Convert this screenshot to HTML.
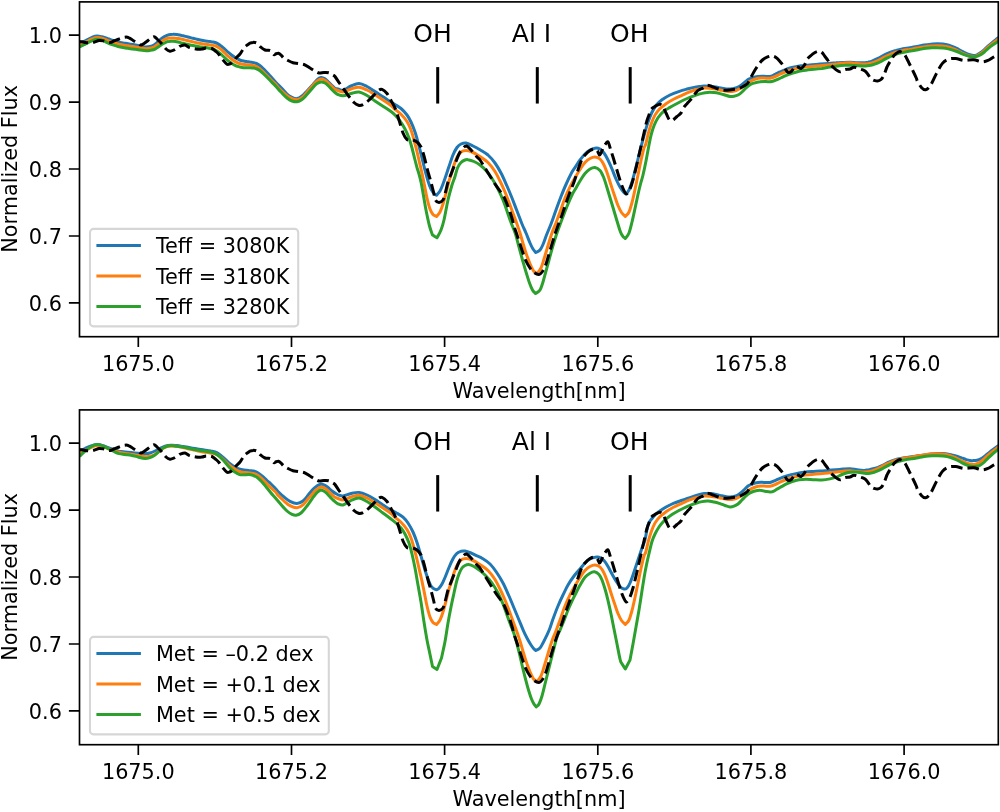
<!DOCTYPE html>
<html lang="en"><head><meta charset="utf-8"><title>Spectra</title>
<style>html,body{margin:0;padding:0;background:#fff}svg{display:block}text{font-family:"DejaVu Sans","Liberation Sans",sans-serif;fill:#000}</style>
</head><body>
<svg width="1000" height="812" viewBox="0 0 1000 812" font-size="20.8px">
<defs><clipPath id="clip"><rect x="79.5" y="1.9" width="918.8" height="334.8"/></clipPath></defs>
<rect width="1000" height="812" fill="#fff"/>
<g transform="translate(0,0)">
<g clip-path="url(#clip)" fill="none" stroke-width="3.0" stroke-linejoin="round">
<path stroke="#1f77b4" d="M79.5 43.2C81 42.6 82.5 42.1 84 41.4C85.3 40.8 86.7 40 88 39.3C89.3 38.6 90.7 37.8 92 37.3C93.7 36.7 95.3 36.1 97 36C98.7 35.9 100.3 36.4 102 36.8C104 37.3 106 38 108 38.7C109.7 39.2 111.3 39.9 113 40.4C114.7 40.9 116.3 41.6 118 42C119.7 42.4 121.3 42.7 123 43C124.7 43.3 126.3 43.4 128 43.7C129.7 44 131.3 44.3 133 44.6C134.7 44.9 136.3 45.2 138 45.5C139.3 45.8 140.7 46.1 142 46.4C143.3 46.6 144.7 47 146 47C147.3 47 148.7 46.8 150 46.5C151.3 46.2 152.7 45.8 154 45C155.2 44.3 156.3 43.2 157.5 42.2C158.7 41.2 159.8 39.9 161 39C162.2 38.1 163.3 37.3 164.5 36.6C165.7 35.9 166.8 35.3 168 35C169.7 34.5 171.3 34.3 173 34.3C174.7 34.2 176.3 34.5 178 34.7C179.7 35 181.3 35.4 183 35.8C184.7 36.2 186.3 36.6 188 37C189.7 37.4 191.3 37.9 193 38.3C194.7 38.7 196.3 39.1 198 39.5C199.7 39.9 201.3 40.2 203 40.5C204.7 40.8 206.3 41 208 41.3C209.3 41.5 210.7 41.7 212 41.9C213 42.1 214 42.2 215 42.5C216 42.8 217 43.3 218 43.9C219 44.5 220 45.2 221 46C222.2 46.9 223.3 47.9 224.5 48.9C225.7 49.9 226.8 51.2 228 52.2C229.2 53.2 230.3 54.1 231.5 55C232.7 55.9 233.8 56.7 235 57.5C236 58.1 237 58.7 238 59.2C239 59.7 240 60.2 241 60.5C242.2 60.9 243.3 61 244.5 61.2C245.7 61.4 246.8 61.5 248 61.7C249.2 61.9 250.3 62 251.5 62.2C252.7 62.4 253.8 62.6 255 63C256 63.3 257 63.8 258 64.4C259 65 260 65.7 261 66.5C262.2 67.5 263.3 68.6 264.5 69.8C265.7 71 266.8 72.2 268 73.5C269.3 75 270.7 76.5 272 78C273.3 79.5 274.7 81.1 276 82.5C277.7 84.3 279.3 85.8 281 87.5C283 89.6 285 92.2 287 94C288.7 95.5 290.3 96.5 292 97.3C293.7 98.1 295.3 98.8 297 98.6C298.7 98.4 300.3 97.3 302 96C303.7 94.7 305.3 92.7 307 91C309 88.9 311 86.8 313 84.6C314.3 83.1 315.7 81 317 79.8C318.3 78.6 319.7 77.7 321 77.5C322.3 77.3 323.7 78 325 78.8C326 79.4 327 80.5 328 81.5C329.2 82.6 330.3 83.9 331.5 85C332.7 86.1 333.8 87.5 335 88.2C336 88.8 337 88.7 338 89C339.7 89.5 341.3 90.8 343 90.4C345.7 89.8 348.3 87.1 351 86C353.7 84.9 356.3 83.5 359 83.6C361.7 83.7 364.3 85.2 367 86.5C369.7 87.8 372.3 89.9 375 91.6C377.7 93.3 380.3 95.1 383 96.8C385.7 98.5 388.3 100.3 391 102C392.3 102.9 393.7 103.6 395 104.5C397 105.8 399 106.8 401 108.5C403 110.2 405 112.3 407 115C408.3 116.8 409.7 119.2 411 122C412.3 124.8 413.7 128.1 415 132C416.2 135.4 417.3 139.7 418.5 144C419.5 147.7 420.5 152 421.5 156C422.6 160.3 423.6 164.9 424.7 169C425.8 173.2 426.9 177.5 428 181C429 184.2 430 187 431 189C432.2 191.3 433.3 192.7 434.5 194C435.2 194.8 435.8 194.8 436.5 195.2C437.7 193.8 438.8 193 440 191C441 189.3 442 186.6 443 184C444 181.4 445 178.4 446 175.5C447 172.6 448 169.4 449 166.5C450.3 162.6 451.7 158.2 453 155C454.3 151.8 455.7 149.3 457 147.5C458.3 145.7 459.7 144.7 461 144C462.7 143.2 464.3 142.7 466 143C468.3 143.4 470.7 144.9 473 146C475.3 147.1 477.7 148.4 480 149.8C482.7 151.4 485.3 152.7 488 155C490.3 157.1 492.7 159.8 495 163C497 165.8 499 169.2 501 173C503 176.8 505 181.5 507 186C508.7 189.8 510.3 193.8 512 198C513.7 202.2 515.3 206.7 517 211C518.7 215.3 520.3 219.9 522 224C523.3 227.3 524.7 229.8 526 233C527.3 236.2 528.7 240 530 243C531 245.3 532 247.4 533 249C533.9 250.5 534.9 251.3 535.8 252.5C537.2 251.7 538.6 251.6 540 250C541 248.9 542 246.8 543 244.5C544.2 241.8 545.3 238 546.5 235C548 231.2 549.5 227.9 551 224C552.7 219.6 554.3 214.6 556 210C557.7 205.4 559.3 200.8 561 196.5C562.7 192.2 564.3 188.2 566 184.5C568 180 570 175.7 572 172C573.3 169.5 574.7 168 576 166C577.3 164 578.7 161.8 580 160C581.7 157.8 583.3 155.7 585 154C586.7 152.3 588.3 151 590 150C591.7 149 593.3 148.4 595 148.2C596.7 148 598.3 148.1 600 149C601.3 149.7 602.7 151.2 604 153C605.3 154.8 606.7 157.3 608 160C609.3 162.7 610.7 165.8 612 169C613.3 172.2 614.7 176 616 179C617.3 182 618.7 184.7 620 187C621.2 189 622.3 190.7 623.5 192C624.3 192.9 625.2 194 626 193.7C627 193.3 628 191.9 629 190C630 188.1 631 185.2 632 182C633 178.8 634 174.8 635 171C636 167.2 637 163 638 159C639 155 640 150.9 641 147C642 143.1 643 139.2 644 135.6C645.2 131.3 646.4 127 647.6 123.4C648.9 119.4 650.3 115.8 651.6 113C653.2 109.7 654.8 107 656.4 105C658.3 102.6 660.1 101.2 662 99.8C664.7 97.8 667.3 96.3 670 95C672.7 93.7 675.3 92.7 678 91.8C680.7 90.9 683.3 90.1 686 89.4C688.7 88.7 691.3 87.9 694 87.4C696.7 86.9 699.3 86.6 702 86.2C702.7 86.1 703.3 86 704 86C706 86 708 86.1 710 86.3C712 86.5 714 86.7 716 87C718 87.3 720 87.9 722 88.2C724 88.5 726 88.9 728 89C729.3 89.1 730.7 89 732 88.8C733.3 88.6 734.7 88.5 736 88C737.3 87.5 738.7 86.8 740 86C741.3 85.2 742.7 84.1 744 83C745.3 81.9 746.7 80.4 748 79.5C749.3 78.6 750.7 78.3 752 77.9C754 77.3 756 76.8 758 76.5C760 76.2 762 76.3 764 76.3C766 76.3 768 76.9 770 76.5C771.7 76.3 773.3 75.2 775 74.5C776.7 73.7 778.3 72.7 780 72C781.7 71.2 783.3 70.5 785 69.8C786.7 69.1 788.3 68.5 790 68C792.3 67.4 794.7 67 797 66.5C799.3 66.1 801.7 65.7 804 65.5C806.7 65.1 809.3 64.9 812 64.7C814.7 64.5 817.3 64.3 820 64.1C822.7 63.9 825.3 63.7 828 63.4C830.7 63.2 833.3 62.9 836 62.8C838.3 62.6 840.7 62.5 843 62.4C845.3 62.3 847.7 62.2 850 62.2C852.3 62.2 854.7 62.6 857 62.7C859.3 62.8 861.7 62.9 864 62.8C865.3 62.7 866.7 62.4 868 62.2C869.3 61.9 870.7 61.7 872 61.1C874 60.4 876 59.3 878 58.3C880 57.3 882 56.1 884 55.1C886 54.1 888 53.3 890 52.5C892 51.7 894 50.9 896 50.4C898.3 49.7 900.7 49.3 903 48.8C905.3 48.4 907.7 48.1 910 47.7C912.3 47.3 914.7 46.8 917 46.4C919.3 46 921.7 45.5 924 45.1C926.3 44.7 928.7 44.4 931 44.2C933.2 44 935.4 43.7 937.6 43.7C939.4 43.7 941.2 43.8 943 44C944.4 44.2 945.8 44.4 947.2 44.8C948.8 45.2 950.4 45.7 952 46.3C953.6 46.9 955.2 47.7 956.8 48.4C958.4 49.2 960 50.2 961.6 51C963.2 51.8 964.8 52.7 966.4 53.4C967.6 53.9 968.8 54.5 970 54.8C971.2 55.1 972.4 55.4 973.6 55.4C974.7 55.4 975.9 55.2 977 54.8C978.3 54.3 979.5 53.5 980.8 52.6C982 51.8 983.2 50.7 984.4 49.6C985.6 48.5 986.8 47.1 988 46C989.7 44.5 991.3 43.4 993 42C994.5 40.8 996.1 39.4 997.6 38.2C997.9 38 998.1 37.8 998.4 37.6"/>
<path stroke="#ff7f0e" d="M79.5 44.8C81 44.2 82.5 43.7 84 43C85.3 42.4 86.7 41.7 88 41C89.3 40.3 90.7 39.5 92 39C93.7 38.4 95.3 37.7 97 37.6C98.7 37.5 100.3 37.8 102 38.3C104 38.8 106 39.9 108 40.6C109.7 41.2 111.3 41.8 113 42.4C114.7 43 116.3 43.6 118 44C119.7 44.4 121.3 44.7 123 45C124.7 45.3 126.3 45.5 128 45.8C129.7 46.1 131.3 46.3 133 46.6C134.7 46.9 136.3 47.1 138 47.4C139.3 47.6 140.7 47.9 142 48.1C143.3 48.3 144.7 48.7 146 48.7C147.3 48.7 148.7 48.6 150 48.3C151.3 48 152.7 47.7 154 47C155.2 46.4 156.3 45.5 157.5 44.6C158.7 43.7 159.8 42.6 161 41.8C162.2 41 163.3 40.2 164.5 39.6C165.7 39 166.8 38.4 168 38.2C169.7 37.9 171.3 37.9 173 37.9C174.7 37.9 176.3 38.1 178 38.4C179.7 38.7 181.3 39.1 183 39.5C184.7 39.9 186.3 40.3 188 40.7C189.7 41.1 191.3 41.5 193 41.9C194.7 42.3 196.3 42.7 198 43C199.7 43.3 201.3 43.6 203 43.9C204.7 44.2 206.3 44.4 208 44.6C209.3 44.8 210.7 45 212 45.2C213 45.4 214 45.5 215 45.8C216 46.1 217 46.6 218 47.2C219 47.8 220 48.6 221 49.4C222.2 50.4 223.3 51.6 224.5 52.7C225.7 53.8 226.8 55.2 228 56.2C229.2 57.2 230.3 58.1 231.5 59C232.7 59.9 233.8 60.7 235 61.4C236 62 237 62.6 238 63C239 63.4 240 63.8 241 64C242.2 64.3 243.3 64.4 244.5 64.5C245.7 64.6 246.8 64.7 248 64.8C249.2 64.9 250.3 65 251.5 65.2C252.7 65.4 253.8 65.6 255 66C256 66.4 257 66.9 258 67.5C259 68.1 260 68.9 261 69.8C262.2 70.8 263.3 72 264.5 73.2C265.7 74.4 266.8 75.6 268 76.8C269.3 78.2 270.7 79.5 272 80.8C273.3 82.1 274.7 83.1 276 84.5C276.7 85.2 277.3 86.5 278 87.2C280 89.3 282 91.2 284 93C286 94.8 288 96.7 290 97.7C292.3 98.9 294.7 99.9 297 99.7C299 99.6 301 98.5 303 96.8C305 95.1 307 92.1 309 89.8C310.3 88.3 311.7 86.6 313 85.2C314.3 83.8 315.7 82.2 317 81.2C318.3 80.2 319.7 79.2 321 79C322.3 78.8 323.7 79.6 325 80.3C326 80.8 327 81.9 328 82.8C329.2 83.9 330.3 85.1 331.5 86.2C332.7 87.3 333.8 88.4 335 89.2C336 89.9 337 90.2 338 90.5C339.7 91.1 341.3 92.2 343 92C345.7 91.7 348.3 89.8 351 89C353.7 88.2 356.3 87 359 87.2C361.7 87.4 364.3 88.7 367 90C369.7 91.3 372.3 93.1 375 94.8C377.7 96.5 380.3 98.2 383 100C385.7 101.8 388.3 103.4 391 105.5C392.3 106.5 393.7 108.1 395 109.3C397 111 399 112.2 401 114.2C403 116.2 405 118.3 407 121.5C408.3 123.6 409.7 126.5 411 130C412 132.6 413 136.4 414 140C415 143.6 416 147.4 417 151.5C417.8 154.9 418.7 158.9 419.5 162.5C420.2 165.4 420.8 168 421.5 171C422.3 174.8 423.2 178.9 424 183C425 187.9 426 193.7 427 198C428 202.3 429 206.2 430 209C431 211.8 432 213.3 433 214.5C434.2 215.8 435.3 215.8 436.5 216.5C437.7 215 438.8 214.2 440 212C441 210.1 442 207.2 443 204C444 200.8 445 196.8 446 193C447 189.2 448 184.5 449 181C449.8 178 450.7 176.2 451.5 173.5C452.3 170.8 453.2 167.4 454 165C455 162.1 456 159.4 457 157.5C458.3 155 459.7 153 461 152C462.7 150.7 464.3 150.5 466 150.5C468 150.5 470 151.2 472 152C474.3 153 476.7 154.5 479 156C482 158 485 159.6 488 162.5C490.3 164.8 492.7 167.9 495 171.5C496.7 174.1 498.3 177.6 500 181C501.7 184.4 503.3 188 505 192C506.7 196 508.3 200.6 510 205C511.3 208.6 512.7 212.4 514 216C515.2 219.2 516.3 222.2 517.5 225.5C518.3 227.9 519.2 230.3 520 233C521.2 236.8 522.3 241.2 523.5 245C524.7 248.8 525.8 252.7 527 256C528.2 259.3 529.3 262.4 530.5 265C531.7 267.6 532.8 270 534 271.5C535 272.8 536 272.8 537 273.5C538.3 271.7 539.7 270.8 541 268C542 265.9 543 262.2 544 259C545 255.8 546 252.3 547 249C548 245.7 549 242.2 550 239C551 235.8 552 232.7 553 230C553.9 227.5 554.9 225.9 555.8 223.5C557.2 219.9 558.6 215.9 560 212C561.7 207.4 563.3 202.2 565 198C566.7 193.8 568.3 190.4 570 187C571.7 183.6 573.3 180.7 575 177.8C576.7 174.9 578.3 172.1 580 169.5C581.7 166.9 583.3 164.3 585 162.5C586.7 160.7 588.3 159.4 590 158.5C591.7 157.6 593.3 156.9 595 157C596.7 157.1 598.3 157.5 600 159C601.3 160.2 602.7 162.3 604 165C605.2 167.3 606.3 170.7 607.5 174C608.7 177.3 609.8 181.4 611 185C612.2 188.6 613.3 192.1 614.5 195.5C615.7 198.9 616.8 202.7 618 205.5C619.2 208.3 620.3 210.7 621.5 212.5C622.8 214.4 624 215.2 625.3 216.5C626.5 215 627.8 214.6 629 212C630 209.9 631 206.2 632 202.5C633 198.8 634 194.1 635 189.5C636 184.9 637 179.8 638 175C639 170.2 640 165 641 160.5C642 156 643 151.4 644 148C644.6 145.9 645.2 146 645.8 144C646.5 141.5 647.3 137.4 648 134.6C648.9 131.1 649.9 127.6 650.8 125C652.1 121.2 653.5 117.8 654.8 115.4C656.4 112.5 658 110.7 659.6 109C661.7 106.8 663.9 105.3 666 103.8C668.7 101.9 671.3 100.4 674 99C676.7 97.6 679.3 96.6 682 95.4C683.3 94.8 684.7 94 686 93.4C688 92.5 690 91.7 692 91C694 90.3 696 89.7 698 89.2C700 88.7 702 88.2 704 88C706 87.8 708 88 710 88.2C712 88.4 714 88.6 716 89C718 89.4 720 90 722 90.4C724 90.8 726 91.2 728 91.4C729.3 91.5 730.7 91.5 732 91.4C733.3 91.3 734.7 91.1 736 90.6C737.3 90.1 738.7 89.3 740 88.5C741.3 87.7 742.7 86.9 744 86C745.3 85 746.7 83.7 748 82.8C749.3 81.9 750.7 81 752 80.4C754 79.5 756 78.6 758 78.2C760 77.8 762 78 764 78C766 78 768 78.5 770 78.2C771.7 78 773.3 77.3 775 76.6C776.7 75.9 778.3 75 780 74.2C781.7 73.4 783.3 72.7 785 72C786.7 71.4 788.3 70.7 790 70.2C792.3 69.5 794.7 68.8 797 68.3C799.3 67.8 801.7 67.5 804 67.2C806.7 66.9 809.3 66.6 812 66.4C814.7 66.2 817.3 66 820 65.8C822.7 65.6 825.3 65.4 828 65.1C830.7 64.8 833.3 64.4 836 64.1C838.3 63.8 840.7 63.4 843 63.2C845.3 63 847.7 62.7 850 62.8C852.3 62.9 854.7 63.3 857 63.5C859.3 63.7 861.7 64 864 64.1C865.3 64.1 866.7 63.9 868 63.7C869.3 63.5 870.7 63.3 872 62.9C874 62.3 876 61.5 878 60.6C880 59.7 882 58.4 884 57.4C886 56.4 888 55.5 890 54.6C892 53.7 894 52.9 896 52.3C898.3 51.6 900.7 51 903 50.5C905.3 50 907.7 49.8 910 49.4C912.3 49 914.7 48.5 917 48.1C919.3 47.7 921.7 47.2 924 46.9C926.3 46.6 928.7 46.3 931 46.1C933.2 45.9 935.4 45.7 937.6 45.7C939.4 45.7 941.2 45.8 943 46C944.4 46.2 945.8 46.3 947.2 46.7C948.8 47.1 950.4 47.7 952 48.3C953.6 49 955.2 49.6 956.8 50.4C958.4 51.2 960 52.1 961.6 52.9C963.2 53.6 964.8 54.4 966.4 55C967.6 55.5 968.8 55.8 970 56.1C971.2 56.3 972.4 56.4 973.6 56.4C974.7 56.3 975.9 56.1 977 55.7C978.3 55.2 979.5 54.4 980.8 53.5C982 52.7 983.2 51.6 984.4 50.6C985.6 49.6 986.8 48.2 988 47.2C989.7 45.8 991.3 44.5 993 43.2C994.5 42 996.1 40.8 997.6 39.6C997.9 39.4 998.1 39.2 998.4 39"/>
<path stroke="#2ca02c" d="M79.5 47C81 46.3 82.5 45.6 84 44.8C85.3 44.1 86.7 43.3 88 42.6C89.3 41.9 90.7 41.3 92 40.8C93.7 40.2 95.3 39.4 97 39.3C98.7 39.2 100.3 39.6 102 40.2C104 40.9 106 42.1 108 43C109.7 43.7 111.3 44.3 113 44.9C114.7 45.5 116.3 46.1 118 46.5C119.7 46.9 121.3 47.2 123 47.5C124.7 47.8 126.3 48 128 48.3C129.7 48.5 131.3 48.8 133 49C134.7 49.2 136.3 49.5 138 49.7C139.3 49.9 140.7 50.1 142 50.3C143.3 50.5 144.7 50.7 146 50.7C147.3 50.7 148.7 50.6 150 50.4C151.3 50.2 152.7 50 154 49.5C155.2 49 156.3 48.2 157.5 47.5C158.7 46.8 159.8 45.8 161 45C162.2 44.2 163.3 43.6 164.5 43C165.7 42.4 166.8 41.8 168 41.6C169.7 41.2 171.3 41.1 173 41.2C174.7 41.3 176.3 41.6 178 42C179.7 42.4 181.3 42.9 183 43.3C184.7 43.7 186.3 44.1 188 44.5C189.7 44.9 191.3 45.3 193 45.6C194.7 45.9 196.3 46.2 198 46.5C199.7 46.8 201.3 47 203 47.3C204.7 47.5 206.3 47.7 208 48C209.7 48.3 211.3 48.5 213 49C214.2 49.4 215.3 50 216.5 50.7C217.7 51.4 218.8 52.3 220 53.3C221.3 54.4 222.7 55.8 224 57C225.3 58.2 226.7 59.5 228 60.6C229.2 61.6 230.3 62.4 231.5 63.2C232.7 64 233.8 64.7 235 65.3C236.2 65.9 237.3 66.3 238.5 66.7C239.7 67.1 240.8 67.3 242 67.5C243.3 67.7 244.7 67.7 246 67.7C247.3 67.7 248.7 67.6 250 67.7C251.2 67.8 252.3 67.9 253.5 68.1C254.7 68.3 255.8 68.5 257 69C258 69.4 259 70.1 260 70.8C261 71.5 262 72.4 263 73.3C264.2 74.4 265.3 75.5 266.5 76.7C267.7 77.9 268.8 79.1 270 80.3C271 81.3 272 82.4 273 83.4C274 84.4 275 85.4 276 86.5C277.7 88.3 279.3 90.3 281 92C283 94.1 285 96.4 287 98C288.7 99.4 290.3 100.4 292 101C293.7 101.6 295.3 102 297 101.8C298.7 101.5 300.3 100.7 302 99.5C303.7 98.3 305.3 96.3 307 94.5C309 92.3 311 89.8 313 87.6C314.3 86.1 315.7 84.5 317 83.6C318.3 82.7 319.7 82.1 321 82C322.3 81.9 323.7 82.3 325 83C326 83.5 327 84.5 328 85.5C329.2 86.6 330.3 88 331.5 89.2C332.7 90.4 333.8 91.5 335 92.5C336 93.3 337 94.1 338 94.5C339.7 95.2 341.3 95.9 343 95.8C345.7 95.6 348.3 94.1 351 93.5C353.7 92.9 356.3 91.7 359 92C361.7 92.3 364.3 94 367 95.5C369.7 97 372.3 99.2 375 101C377.7 102.8 380.3 104.5 383 106.2C385.7 108 388.3 109.5 391 111.5C392.3 112.5 393.7 113.6 395 115C396.7 116.8 398.3 118.7 400 121C401.7 123.3 403.3 125.9 405 129C406.3 131.5 407.7 134.4 409 138C410 140.7 411 144.4 412 148C412.8 151 413.7 154.8 414.5 158C415.3 161.2 416.2 164.5 417 167.5C417.7 169.9 418.3 171.6 419 174C419.7 176.4 420.3 179 421 182C421.5 184.3 422 187.2 422.5 190C423.7 196.5 424.8 204 426 210C427.2 216 428.3 221.5 429.5 226C430.5 229.8 431.5 232 432.5 235C434 235.9 435.5 236.9 437 237.8C438.3 235.2 439.7 233.4 441 230C442 227.5 443 224.3 444 220C445.3 214.3 446.7 205.8 448 200C449.3 194.2 450.7 189.5 452 185C453 181.6 454 179.6 455 176.5C455.8 173.9 456.7 169.9 457.5 168C458.7 165.3 459.8 163.7 461 162.5C462.3 161.1 463.7 160.5 465 160C466 159.6 467 159.5 468 159.7C470 160 472 160.6 474 161.5C476 162.4 478 163.5 480 165C482 166.5 484 168.2 486 170.5C488 172.8 490 175.4 492 178.5C494 181.6 496 185.1 498 189C499.7 192.3 501.3 195.9 503 200C504.3 203.3 505.7 207.2 507 211C508.3 214.8 509.7 218.9 511 222.5C512.5 226.6 514 229.4 515.5 234C516.7 237.6 517.8 242.7 519 247C520.2 251.3 521.3 255.8 522.5 260C523.7 264.2 524.8 268.2 526 272C527.2 275.8 528.3 279.8 529.5 283C530.5 285.8 531.5 288.2 532.5 290C533.5 291.8 534.5 292.3 535.5 293.5C537 292.3 538.5 292.3 540 290C541 288.5 542 285.2 543 282C544 278.8 545 274.7 546 271C547 267.3 548 263.7 549 260C550 256.3 551 252.5 552 249C553 245.5 554 242.2 555 239C556 235.8 557 232.8 558 230C559 227.2 560 224.7 561 222C562 219.3 563 216.6 564 214C565.3 210.6 566.7 207.2 568 204C569.3 200.8 570.7 197.7 572 195C573.3 192.3 574.7 190.3 576 188C577.3 185.7 578.7 183.1 580 181C581.7 178.3 583.3 175.5 585 173.5C586.7 171.5 588.3 170 590 169C591.7 168 593.3 167.2 595 167.5C596.7 167.8 598.3 168.6 600 170.5C601.2 171.8 602.3 174.2 603.5 177C604.5 179.4 605.5 182.8 606.5 186C607.5 189.2 608.5 192.7 609.5 196C610.7 199.9 611.8 203.6 613 207.5C614.3 211.9 615.7 216.6 617 221C618.2 224.8 619.3 229 620.5 232C621.3 234.2 622.2 235.4 623 236.5C623.8 237.5 624.5 237.8 625.3 238.5C626.5 236.7 627.8 236 629 233C630 230.5 631 226.1 632 222C633 217.9 634 213.1 635 208.5C636 203.9 637 199 638 194.5C638.8 190.8 639.7 187.2 640.5 184C641.3 180.8 642.2 178.5 643 175C644 170.8 645 166 646 161C646.9 156.3 647.9 150.7 648.8 146C649.6 141.9 650.4 137.7 651.2 134.6C652.1 131 653.1 128.1 654 125.8C655.3 122.5 656.7 119.8 658 117.8C659.9 115 661.7 113 663.6 111.4C665.7 109.6 667.9 108.6 670 107.4C672.7 105.8 675.3 104.4 678 103C680.7 101.6 683.3 100.2 686 99C688.7 97.8 691.3 96.7 694 95.8C696.7 94.9 699.3 94 702 93.4C704 92.9 706 92.5 708 92.4C710 92.3 712 92.4 714 92.6C716 92.8 718 93.2 720 93.6C721.7 94 723.3 94.5 725 95C726.7 95.5 728.3 96.2 730 96.4C731.3 96.6 732.7 96.4 734 96.2C735.3 96 736.7 95.7 738 95C739.3 94.3 740.7 93.2 742 92C743.3 90.8 744.7 89.2 746 88C747.3 86.8 748.7 85.6 750 84.7C751.3 83.9 752.7 83.5 754 83.1C756 82.5 758 82 760 81.8C762 81.5 764 81.6 766 81.6C768 81.6 770 81.9 772 81.5C773.7 81.3 775.3 80.4 777 79.7C778.7 79 780.3 78.1 782 77.3C783.7 76.5 785.3 75.8 787 75.1C788.7 74.5 790.3 73.8 792 73.3C794.3 72.6 796.7 71.9 799 71.3C801.3 70.8 803.7 70.5 806 70.2C808.7 69.8 811.3 69.6 814 69.3C816.7 69 819.3 68.7 822 68.4C824.7 68 827.3 67.5 830 67.1C832.7 66.7 835.3 66.2 838 65.9C840.3 65.6 842.7 65.4 845 65.3C847.3 65.1 849.7 65.1 852 65.2C854.3 65.2 856.7 65.7 859 65.8C861.3 66 863.7 66 866 65.9C867.3 65.9 868.7 65.6 870 65.4C871.3 65.1 872.7 64.9 874 64.4C876 63.7 878 63 880 62C882 61 884 59.7 886 58.6C888 57.6 890 56.6 892 55.8C894 55 896 54.2 898 53.6C900.3 53 902.7 52.6 905 52.1C907.3 51.6 909.7 51.1 912 50.7C914.3 50.2 916.7 49.9 919 49.5C921.3 49.1 923.7 48.6 926 48.3C928 48 930 47.8 932 47.7C933.9 47.6 935.7 47.7 937.6 47.8C939.4 47.8 941.2 47.9 943 48.1C944.4 48.2 945.8 48.3 947.2 48.6C948.8 48.9 950.4 49.4 952 49.9C953.6 50.4 955.2 50.9 956.8 51.5C958.4 52.1 960 52.9 961.6 53.6C963.2 54.3 964.8 54.9 966.4 55.4C967.6 55.8 968.8 56.2 970 56.4C971.2 56.6 972.4 56.8 973.6 56.8C974.7 56.8 975.9 56.6 977 56.3C978.3 55.9 979.5 55.3 980.8 54.6C982 53.9 983.2 53 984.4 52C985.6 51 986.8 49.6 988 48.6C989.7 47.2 991.3 46 993 44.8C994.5 43.7 996.1 42.8 997.6 41.8C997.9 41.6 998.1 41.4 998.4 41.2"/>
<path stroke="#000" stroke-dasharray="11.56 5" stroke-dashoffset="2.9" d="M79.5 41.5C79.5 41.5 79.6 41.5 79.6 41.5C81.1 41.7 82.5 42 84 42.2C85.3 42.4 86.7 42.8 88 42.8C90 42.8 92 42.6 94 42.2C95.7 41.9 97.3 40.7 99 40.5C100.7 40.3 102.3 40.7 104 41C106 41.4 108 42.6 110 42.5C111.7 42.4 113.3 41.1 115 40.5C116.3 40 117.7 39.4 119 39C121 38.3 123 37.4 125 37.2C126.3 37 127.7 37.2 129 37.8C130.7 38.5 132.3 39.9 134 41C135.3 41.8 136.7 42.7 138 43.5C139 44.1 140 45 141 45C142 45 143 44.1 144 43.5C145.3 42.6 146.7 41.5 148 40.5C149.3 39.5 150.7 38.3 152 37.5C152.8 37 153.7 36.5 154.5 36.8C155.7 37.3 156.8 38.9 158 40C159.3 41.3 160.7 42.5 162 44C163.3 45.5 164.7 47.8 166 49C167.3 50.2 168.7 51 170 51.2C171.3 51.4 172.7 50.6 174 50C175.3 49.4 176.7 48.3 178 47.5C178.7 47.1 179.3 46.4 180 46.2C181.7 45.6 183.3 44.8 185 45C186.3 45.2 187.7 46.8 189 47.3C191.3 48.1 193.7 48.7 196 49C198 49.3 200 49.2 202 49C203.3 48.9 204.7 48.1 206 48C208 47.9 210 47.8 212 48.5C213.3 49 214.7 50.4 216 51.5C217 52.4 218 53.3 219 54.5C220.3 56.1 221.7 58.4 223 60C224.3 61.6 225.7 63.4 227 64.2C227.8 64.7 228.7 64.3 229.5 64C230.3 63.7 231.2 63.3 232 62.5C233.3 61.3 234.7 59.4 236 58C237.3 56.6 238.7 55.6 240 54C240.7 53.2 241.3 52 242 51C243 49.6 244 47.9 245 46.8C246 45.7 247 45.2 248 44.5C248.7 44 249.3 43.5 250 43.2C251 42.8 252 42.5 253 42.4C253.7 42.3 254.3 42.4 255 42.5C255.7 42.6 256.3 42.7 257 43.2C258 44 259 45.6 260 46.5C261.7 47.9 263.3 49.3 265 50C266.7 50.7 268.3 50 270 50.5C270.7 50.7 271.3 51.3 272 52C272.7 52.7 273.3 54.3 274 54.6C274.7 54.9 275.3 54 276 53.8C276.8 53.5 277.7 53 278.5 53.2C279.3 53.4 280.2 54.2 281 55C281.8 55.8 282.7 57.1 283.5 57.8C285 59 286.5 59.7 288 60.5C289.7 61.4 291.3 62.3 293 62.8C294.7 63.3 296.3 63.2 298 63.5C300 63.8 302 63.8 304 64.5C306 65.2 308 66.8 310 68C311.3 68.8 312.7 69.8 314 70.5C315.7 71.4 317.3 72.7 319 73C320.7 73.3 322.3 72.5 324 72.5C325.7 72.5 327.3 72.3 329 72.8C330.3 73.2 331.7 74.2 333 75C333.7 75.4 334.3 75.7 335 76.5C336.3 78.2 337.7 80.6 339 82.5C340.7 84.9 342.3 87.2 344 89.5C345.7 91.8 347.3 94.3 349 96.5C350.7 98.7 352.3 101 354 102.5C355.5 103.9 357 104.8 358.5 105.2C359.8 105.6 361.2 105.4 362.5 104.8C364.3 104 366.2 102.6 368 101C370.3 99 372.7 96.3 375 94C376.3 92.7 377.7 90.9 379 90C380 89.3 381 88.9 382 89.3C383.7 90 385.3 91.4 387 93.5C388.3 95.2 389.7 98.1 391 100.5C392.3 102.9 393.7 104.8 395 108C396.3 111.2 397.7 115.8 399 120C400.3 124.2 401.7 129.8 403 133C404.3 136.2 405.7 138.5 407 139.5C408.7 140.7 410.3 139.3 412 139.7C413.7 140.1 415.3 140.6 417 142C418.3 143.1 419.7 144.3 421 147C422 149 423 152.5 424 156C424.8 158.9 425.7 162.7 426.5 166C427.1 168.4 427.7 170.8 428.3 173C429 175.7 429.8 177.8 430.5 180.5C431.5 184.2 432.5 188 433.5 192C434.2 194.6 434.8 199 435.5 200.3C436.7 202.5 437.8 202.5 439 202.5C440.3 202.4 441.7 201.9 443 200C443.7 199.1 444.3 196.4 445 194C446 190.4 447 185.3 448 182C449.1 178.4 450.2 176.3 451.3 173.5C452.5 170.3 453.8 167.1 455 164C456.3 160.6 457.7 156.7 459 154C460.3 151.3 461.7 149.4 463 148C464.2 146.8 465.3 145.7 466.5 146C468 146.4 469.5 148.4 471 150C473 152.1 475 154.8 477 157C478 158.1 479 158.6 480 160C481.7 162.3 483.3 165.3 485 168C486.7 170.7 488.3 173.3 490 176C491.7 178.7 493.3 181.5 495 184C496.7 186.5 498.3 188.6 500 191C501.3 192.9 502.7 194.5 504 197C505 198.9 506 201.5 507 204C508 206.5 509 209.1 510 212C510.8 214.4 511.7 217.1 512.5 220C513 221.8 513.5 224.3 514 226C515 229.3 516 232 517 235C518 238 519 241 520 244C521 247 522 250.2 523 253C524 255.8 525 258.9 526 261C527.3 263.9 528.7 266.1 530 268C531.3 269.9 532.7 271.5 534 272.5C535.7 273.7 537.3 274.7 539 274.5C540.2 274.4 541.3 273.2 542.5 271.5C543.7 269.8 544.8 267.1 546 264C547 261.3 548 257.3 549 254C550 250.7 551 247.3 552 244C553 240.7 554 237.1 555 234C556 230.9 557 228.2 558 225.5C559.3 221.9 560.7 218.8 562 215C563.3 211.2 564.7 206.8 566 203C567.3 199.2 568.7 195.5 570 192C571.3 188.5 572.7 185.6 574 182C575.2 178.8 576.3 174.9 577.5 171.5C578.7 168.1 579.8 164.1 581 161.5C582.3 158.6 583.7 156.6 585 155C586.7 153 588.3 151.5 590 150.5C591.7 149.5 593.3 148.9 595 149C595.8 149.1 596.7 149.9 597.5 151C598.2 151.9 598.8 154.8 599.5 155C600.2 155.2 600.8 153.3 601.5 152C602 151 602.5 149 603 148C603.8 146.3 604.7 145 605.5 144C606.3 143 607.2 141.2 608 141.8C608.7 142.3 609.3 145.5 610 147.5C611 150.5 612 153.8 613 157C614 160.2 615 163.7 616 167C617 170.3 618 173.8 619 177C620 180.2 621 183.4 622 186C623 188.6 624 190.9 625 192.5C625.7 193.5 626.3 194.3 627 193.8C628 193.1 629 191.3 630 189C631 186.7 632 183.5 633 180C634 176.5 635 172.2 636 168C637 163.8 638 159.4 639 155C639.8 151.4 640.7 147.7 641.5 144C642.3 140.3 643.2 136.6 644 133C644.8 129.5 645.6 125.5 646.4 122.6C647.2 119.7 648 117.7 648.8 115.4C649.5 113.5 650.1 110.8 650.8 109.8C652.1 107.8 653.5 107.4 654.8 106.6C656.4 105.6 658 104.4 659.6 104.2C660.4 104.1 661.2 104.8 662 105.5C662.5 106 663.1 106.8 663.6 107.8C664.4 109.3 665.2 111.3 666 113C666.8 114.7 667.6 116.8 668.4 118.2C669 119.3 669.7 120.3 670.3 120.6C671.1 121 672 120.7 672.8 120.2C674.2 119.3 675.6 117.7 677 116.5C678.3 115.3 679.7 114.8 681 113C681.7 112 682.5 109.3 683.2 108.2C684.5 106.2 685.7 105.1 687 103.7C688.3 102.2 689.7 101 691 99.4C692 98.2 693 96.9 694 95.5C694.7 94.6 695.3 93.4 696 92.6C696.7 91.8 697.3 90.9 698 90.4C698.8 89.7 699.7 89.4 700.5 89C701.3 88.6 702.2 88.5 703 88C703.7 87.6 704.3 87 705 86.5C705.7 86 706.3 85.4 707 85.3C708 85.2 709 85.5 710 85.8C711.2 86.1 712.3 86.8 713.5 87.2C714.7 87.7 715.8 88.1 717 88.5C718.7 89 720.3 89.7 722 90C723.7 90.3 725.3 90.3 727 90.2C729 90.1 731 89.8 733 89.5C735 89.2 737 89.1 739 88.5C740.3 88.1 741.7 87.3 743 86.5C744.5 85.6 746 85.1 747.5 83.5C748.3 82.6 749.2 80.5 750 79C751.7 76 753.3 72.8 755 70C756.3 67.8 757.7 65.8 759 64C760.3 62.2 761.7 60.6 763 59.5C764.3 58.4 765.7 57.7 767 57.2C768.5 56.6 770 56 771.5 56C773 56 774.5 56.5 776 57.5C777.3 58.4 778.7 60 780 61.5C781.3 63 782.7 64.6 784 66.5C785.2 68.1 786.3 71.1 787.5 72C788.7 72.9 789.8 72.7 791 71.8C792.3 70.8 793.7 67.4 795 66.5C796 65.8 797 66.7 798 67C799 67.3 800 68.8 801 68.5C802.2 68.1 803.3 66.8 804.5 65C805.3 63.8 806.2 60.7 807 59.5C808.3 57.6 809.7 56.7 811 55.5C812.3 54.3 813.7 53.3 815 52.5C816.2 51.8 817.3 51.2 818.5 51.2C819.7 51.2 820.8 51.5 822 52.5C823 53.3 824 55.2 825 56.5C826 57.8 827 59 828 60.5C828.7 61.5 829.3 63.2 830 64C831.3 65.7 832.7 66.8 834 68C835.3 69.2 836.7 70.2 838 71C838.8 71.5 839.7 72 840.5 71.8C842 71.5 843.5 69.9 845 69.5C846.7 69 848.3 69.4 850 69C851.3 68.7 852.7 67.2 854 67.2C856 67.2 858 68.3 860 69C861.7 69.6 863.3 69.9 865 71C866 71.7 867 73.2 868 74.5C869 75.8 870 77.5 871 78.5C872 79.5 873 79.9 874 80.3C875.2 80.7 876.3 81.1 877.5 81C878.7 80.9 879.8 80.6 881 79.5C882 78.6 883 77.1 884 75C885 72.9 886 69.1 887 67C888.3 64.1 889.7 62.2 891 60C892 58.4 893 56.6 894 55.5C895.3 54 896.7 52.9 898 52.2C899 51.7 900 51.4 901 51.8C902.2 52.2 903.3 52.9 904.5 54.5C906 56.6 907.5 60.1 909 63C910.3 65.6 911.7 68.2 913 71C914.2 73.4 915.3 75.8 916.5 78.5C916.7 79 917 80.4 917.2 80.8C918.6 83.3 920 85.9 921.4 87.4C922.8 88.9 924.2 90.1 925.6 89.8C927.2 89.5 928.8 88 930.4 85.6C932.4 82.6 934.4 77.3 936.4 73.6C938.4 69.9 940.4 65.8 942.4 63.4C944.4 61 946.4 59.9 948.4 59.2C950.8 58.3 953.2 58.4 955.6 58.6C958.4 58.8 961.2 60.2 964 60.4C967.2 60.6 970.4 59.6 973.6 59.8C976.4 60 979.2 61.7 982 61.8C984 61.9 986 61.2 988 60.4C990 59.6 992 57.8 994 56.8C995.5 56 996.9 55.6 998.4 55"/>
</g>
<g stroke="#000" stroke-width="3" stroke-linecap="square">
<line x1="437.7" y1="68.6" x2="437.7" y2="102.05"/>
<line x1="537.3" y1="68.6" x2="537.3" y2="102.05"/>
<line x1="630.2" y1="68.6" x2="630.2" y2="102.05"/>
</g>
<g font-size="25px">
<text x="413.3" y="42">OH</text>
<text x="511.8" y="42">Al I</text>
<text x="610" y="42">OH</text>
</g>
<path d="M138.3 336.7v10.4M291.5 336.7v10.4M444.6 336.7v10.4M597.8 336.7v10.4M750.9 336.7v10.4M904.1 336.7v10.4M79.5 35.1h-10.6M79.5 102.1h-10.6M79.5 169h-10.6M79.5 236h-10.6M79.5 302.9h-10.6" stroke="#000" stroke-width="1.67" fill="none"/>
<rect x="79.5" y="1.9" width="918.8" height="334.8" fill="none" stroke="#000" stroke-width="1.67"/>
<g text-anchor="middle">
<text x="138.3" y="370.5">1675.0</text>
<text x="291.5" y="370.5">1675.2</text>
<text x="444.6" y="370.5">1675.4</text>
<text x="597.8" y="370.5">1675.6</text>
<text x="750.9" y="370.5">1675.8</text>
<text x="904.1" y="370.5">1676.0</text>
<text x="539" y="398">Wavelength[nm]</text>
</g>
<g text-anchor="end">
<text x="61.9" y="43.1">1.0</text>
<text x="61.9" y="110.1">0.9</text>
<text x="61.9" y="177">0.8</text>
<text x="61.9" y="244">0.7</text>
<text x="61.9" y="310.9">0.6</text>
</g>
<text transform="translate(16.6,168.8) rotate(-90)" text-anchor="middle">Normalized Flux</text>
<rect x="90" y="228.9" width="208.2" height="97.5" rx="3.5" fill="#fff" fill-opacity="0.8" stroke="#ccc" stroke-opacity="0.8" stroke-width="2.08"/>
<line x1="97.9" y1="245.4" x2="139.4" y2="245.4" stroke="#1f77b4" stroke-width="3.0" stroke-linecap="square"/>
<text x="155.9" y="253.3">Teff = 3080K</text>
<line x1="97.9" y1="275.9" x2="139.4" y2="275.9" stroke="#ff7f0e" stroke-width="3.0" stroke-linecap="square"/>
<text x="155.9" y="283.8">Teff = 3180K</text>
<line x1="97.9" y1="306.4" x2="139.4" y2="306.4" stroke="#2ca02c" stroke-width="3.0" stroke-linecap="square"/>
<text x="155.9" y="314.3">Teff = 3280K</text>
</g>
<g transform="translate(0,408)">
<g clip-path="url(#clip)" fill="none" stroke-width="3.0" stroke-linejoin="round">
<path stroke="#1f77b4" d="M79.6 43C81.4 42.2 83.2 41.3 85 40.5C87 39.6 89 38.6 91 38C93.3 37.3 95.7 36.6 98 36.6C100 36.6 102 37.4 104 38C105.7 38.5 107.3 39.4 109 40C111 40.7 113 41.3 115 42C116.3 42.4 117.7 43 119 43.3C121 43.7 123 43.8 125 44C127 44.2 129 44.4 131 44.6C133.3 44.8 135.7 45 138 45.2C140.3 45.4 142.7 45.8 145 45.8C146.7 45.8 148.3 45.5 150 45C151.7 44.5 153.3 43.8 155 43C156.7 42.2 158.3 41.3 160 40.5C161.7 39.7 163.3 38.8 165 38.3C167 37.7 169 37.3 171 37.2C173 37.1 175 37.4 177 37.6C179 37.8 181 38.2 183 38.5C185 38.8 187 39.1 189 39.5C191 39.9 193 40.3 195 40.6C197.7 41 200.3 41.4 203 41.8C205.7 42.2 208.3 42.5 211 43C212.3 43.2 213.7 43.5 215 44C216.3 44.5 217.7 45.1 219 46C220.7 47.1 222.3 48.5 224 50C225.7 51.5 227.3 53.6 229 55C230.7 56.4 232.3 57.5 234 58.5C235.7 59.5 237.3 60.4 239 61C240.7 61.6 242.3 61.8 244 62C245.7 62.2 247.3 62.2 249 62.4C250.3 62.5 251.7 62.7 253 63C254.3 63.3 255.7 63.6 257 64.3C258.7 65.2 260.3 66.6 262 68C263.7 69.4 265.3 71 267 72.5C268.3 73.7 269.7 74.8 271 76C272.3 77.2 273.7 78.6 275 80C276 81.1 277 82.5 278 83.5C280 85.5 282 87.4 284 89C286 90.6 288 92.3 290 93.3C292.3 94.4 294.7 95.5 297 95.4C299 95.4 301 94.5 303 93C305 91.5 307 88.4 309 86.1C310.3 84.5 311.7 82.7 313 81.3C314.3 79.9 315.7 78.8 317 77.9C318.3 77.1 319.7 76.3 321 76.2C322.3 76.1 323.7 76.7 325 77.3C326 77.8 327 78.7 328 79.5C329.3 80.6 330.7 81.9 332 83C333 83.8 334 84.5 335 85.1C336 85.7 337 86.4 338 86.8C339.7 87.4 341.3 88.2 343 88C345.7 87.7 348.3 86.1 351 85.5C353.7 84.9 356.3 84.2 359 84.4C361.7 84.7 364.3 85.8 367 87C369.7 88.2 372.3 89.9 375 91.6C377.7 93.3 380.3 95.3 383 97C385.7 98.7 388.3 100.4 391 102C393 103.2 395 104.1 397 105.3C399 106.5 401 107.4 403 109.2C404.7 110.7 406.3 112.5 408 115C409.7 117.5 411.3 120.4 413 124C414.3 126.9 415.7 130.5 417 134.5C418.3 138.5 419.7 143.4 421 148C422.3 152.6 423.7 157.6 425 162C426 165.3 427 168.3 428 171C429 173.7 430 176.4 431 178C432 179.6 433 180.1 434 180.8C434.9 181.4 435.7 181.5 436.6 181.8C437.4 181.3 438.2 181.1 439 180.2C440 179.1 441 177.8 442 176C443 174.2 444 171.9 445 169.5C446.3 166.4 447.7 162.6 449 159.5C450.3 156.4 451.7 153.2 453 150.8C454.3 148.4 455.7 146.6 457 145.3C458.3 144.1 459.7 143.7 461 143.3C462.3 142.9 463.7 142.9 465 143.1C467 143.4 469 144.2 471 145C473 145.8 475 147 477 147.9C478.7 148.7 480.3 149.2 482 150.2C484.7 151.9 487.3 153.4 490 156C492.3 158.3 494.7 161.6 497 165C499 167.9 501 171.2 503 175C505 178.8 507 183.5 509 188C510.7 191.8 512.3 196 514 200C515.7 204 517.3 208 519 212C520.5 215.6 522 219.4 523.5 222.8C524.8 225.8 526.2 228.5 527.5 231C528.7 233.2 529.8 235.2 531 237C532 238.5 533 239.9 534 241C534.6 241.7 535.2 242 535.8 242.5C537.2 241.7 538.6 241.5 540 240C541 239 542 236.8 543 235C544.2 232.8 545.3 230.5 546.5 228C547.5 225.9 548.5 223.9 549.5 221.3C550.7 218.2 551.8 214.2 553 211C554.7 206.4 556.3 202 558 198C559.7 194 561.3 190.5 563 187C564.7 183.5 566.3 179.9 568 177C570 173.5 572 170.7 574 168C576 165.3 578 163.4 580 161C581.7 159 583.3 156.7 585 155C586.7 153.3 588.3 152 590 151C591.7 150 593.3 149.5 595 149.2C596.3 148.9 597.7 148.7 599 149.2C600.7 149.8 602.3 150.8 604 152.5C605.3 153.9 606.7 156.2 608 158.5C609.3 160.8 610.7 163.6 612 166C613.3 168.4 614.7 170.9 616 173C617.3 175.1 618.7 177.2 620 178.5C621.3 179.8 622.7 180.7 624 181C625 181.2 626 181 627 180C628 179 629 177.2 630 175C631 172.8 632 169.8 633 167C634 164.2 635 161 636 158C637 155 638 152 639 149C640 146 641 142.9 642 140C643 137.1 644 135.6 645 131.8C646 128 647 120 648 117C649.3 112.9 650.7 112.3 652 110.5C653.3 108.7 654.7 107.2 656 106C658 104.2 660 102.8 662 101.5C664 100.2 666 99 668 98C670 97 672 96 674 95.2C676 94.4 678 93.7 680 93C682 92.3 684 91.7 686 91C688 90.3 690 89.7 692 89C694 88.3 696 87.6 698 87C700 86.4 702 85.8 704 85.6C706 85.4 708 85.5 710 85.6C712 85.7 714 86 716 86.4C718 86.8 720 87.4 722 87.8C724 88.2 726 88.8 728 89C729.3 89.1 730.7 89 732 88.8C733.3 88.6 734.7 88.5 736 88C737.3 87.5 738.7 86.5 740 85.5C741.3 84.5 742.7 83.2 744 82C745.3 80.8 746.7 79 748 78C749.3 77 750.7 76.6 752 76.1C754 75.4 756 74.8 758 74.5C760 74.2 762 74.4 764 74.4C766 74.4 768 74.8 770 74.5C771.7 74.2 773.3 73.3 775 72.6C776.7 71.9 778.3 71 780 70.3C781.7 69.7 783.3 69 785 68.5C786.7 67.9 788.3 67.4 790 67C792.3 66.4 794.7 65.9 797 65.4C799.3 64.9 801.7 64.5 804 64.2C806.7 63.9 809.3 63.7 812 63.5C814.7 63.3 817.3 63.2 820 63C822.7 62.9 825.3 62.6 828 62.4C830.7 62.1 833.3 61.9 836 61.7C838.3 61.5 840.7 61.3 843 61.1C845.3 60.9 847.7 60.6 850 60.7C852.3 60.8 854.7 61.5 857 61.8C859.3 62.1 861.7 62.4 864 62.4C865.3 62.5 866.7 62.1 868 61.9C869.3 61.6 870.7 61.4 872 61C874 60.5 876 60 878 59.3C880 58.5 882 57.5 884 56.6C886 55.6 888 54.5 890 53.7C892 52.9 894 52 896 51.5C898.3 50.8 900.7 50.5 903 50C905.3 49.6 907.7 49.4 910 49C912.3 48.6 914.7 48.3 917 47.9C919.3 47.6 921.7 47.3 924 46.9C926.3 46.6 928.7 46.3 931 46C933.2 45.8 935.4 45.6 937.6 45.5C939.4 45.5 941.2 45.5 943 45.6C944.4 45.7 945.8 45.8 947.2 46C948.8 46.2 950.4 46.5 952 46.9C953.6 47.2 955.2 47.7 956.8 48.2C958.4 48.7 960 49.3 961.6 49.9C963.2 50.4 964.8 51.1 966.4 51.6C967.6 51.9 968.8 52.2 970 52.4C971.2 52.6 972.4 52.7 973.6 52.6C974.7 52.6 975.9 52.5 977 52.2C978.3 51.9 979.5 51.5 980.8 50.8C982 50.2 983.2 49.3 984.4 48.4C985.6 47.5 986.8 46.4 988 45.4C989.7 44.1 991.3 42.7 993 41.5C994.5 40.3 996.1 39.3 997.6 38.2C997.9 38 998.1 37.8 998.4 37.6"/>
<path stroke="#ff7f0e" d="M79.5 44.8C81 44.2 82.5 43.7 84 43C85.3 42.4 86.7 41.7 88 41C89.3 40.3 90.7 39.5 92 39C93.7 38.4 95.3 37.7 97 37.6C98.7 37.5 100.3 37.8 102 38.3C104 38.8 106 39.9 108 40.6C109.7 41.2 111.3 41.8 113 42.4C114.7 43 116.3 43.6 118 44C119.7 44.4 121.3 44.7 123 45C124.7 45.3 126.3 45.5 128 45.8C129.7 46.1 131.3 46.3 133 46.6C134.7 46.9 136.3 47.1 138 47.4C139.3 47.6 140.7 47.9 142 48.1C143.3 48.3 144.7 48.7 146 48.7C147.3 48.7 148.7 48.6 150 48.3C151.3 48 152.7 47.7 154 47C155.2 46.4 156.3 45.5 157.5 44.6C158.7 43.7 159.8 42.6 161 41.8C162.2 41 163.3 40.2 164.5 39.6C165.7 39 166.8 38.4 168 38.2C169.7 37.9 171.3 37.9 173 37.9C174.7 37.9 176.3 38.1 178 38.4C179.7 38.7 181.3 39.1 183 39.5C184.7 39.9 186.3 40.3 188 40.7C189.7 41.1 191.3 41.5 193 41.9C194.7 42.3 196.3 42.7 198 43C199.7 43.3 201.3 43.6 203 43.9C204.7 44.2 206.3 44.4 208 44.6C209.3 44.8 210.7 45 212 45.2C213 45.4 214 45.5 215 45.8C216 46.1 217 46.6 218 47.2C219 47.8 220 48.6 221 49.4C222.2 50.4 223.3 51.6 224.5 52.7C225.7 53.8 226.8 55.2 228 56.2C229.2 57.2 230.3 58.1 231.5 59C232.7 59.9 233.8 60.7 235 61.4C236 62 237 62.6 238 63C239 63.4 240 63.8 241 64C242.2 64.3 243.3 64.4 244.5 64.5C245.7 64.6 246.8 64.7 248 64.8C249.2 64.9 250.3 65 251.5 65.2C252.7 65.4 253.8 65.6 255 66C256 66.4 257 66.9 258 67.5C259 68.1 260 68.9 261 69.8C262.2 70.8 263.3 72 264.5 73.2C265.7 74.4 266.8 75.6 268 76.8C269.3 78.2 270.7 79.5 272 80.8C273.3 82.1 274.7 83.1 276 84.5C276.7 85.2 277.3 86.5 278 87.2C280 89.3 282 91.2 284 93C286 94.8 288 96.7 290 97.7C292.3 98.9 294.7 99.9 297 99.7C299 99.6 301 98.5 303 96.8C305 95.1 307 92.1 309 89.8C310.3 88.3 311.7 86.6 313 85.2C314.3 83.8 315.7 82.2 317 81.2C318.3 80.2 319.7 79.2 321 79C322.3 78.8 323.7 79.6 325 80.3C326 80.8 327 81.9 328 82.8C329.2 83.9 330.3 85.1 331.5 86.2C332.7 87.3 333.8 88.4 335 89.2C336 89.9 337 90.2 338 90.5C339.7 91.1 341.3 92.2 343 92C345.7 91.7 348.3 89.8 351 89C353.7 88.2 356.3 87 359 87.2C361.7 87.4 364.3 88.7 367 90C369.7 91.3 372.3 93.1 375 94.8C377.7 96.5 380.3 98.2 383 100C385.7 101.8 388.3 103.4 391 105.5C392.3 106.5 393.7 108.1 395 109.3C397 111 399 112.2 401 114.2C403 116.2 405 118.3 407 121.5C408.3 123.6 409.7 126.5 411 130C412 132.6 413 136.4 414 140C415 143.6 416 147.4 417 151.5C417.8 154.9 418.7 158.9 419.5 162.5C420.2 165.4 420.8 168 421.5 171C422.3 174.8 423.2 178.9 424 183C425 187.9 426 193.7 427 198C428 202.3 429 206.2 430 209C431 211.8 432 213.3 433 214.5C434.2 215.8 435.3 215.8 436.5 216.5C437.7 215 438.8 214.2 440 212C441 210.1 442 207.2 443 204C444 200.8 445 196.8 446 193C447 189.2 448 184.5 449 181C449.8 178 450.7 176.2 451.5 173.5C452.3 170.8 453.2 167.4 454 165C455 162.1 456 159.4 457 157.5C458.3 155 459.7 153 461 152C462.7 150.7 464.3 150.5 466 150.5C468 150.5 470 151.2 472 152C474.3 153 476.7 154.5 479 156C482 158 485 159.6 488 162.5C490.3 164.8 492.7 167.9 495 171.5C496.7 174.1 498.3 177.6 500 181C501.7 184.4 503.3 188 505 192C506.7 196 508.3 200.6 510 205C511.3 208.6 512.7 212.4 514 216C515.2 219.2 516.3 222.2 517.5 225.5C518.3 227.9 519.2 230.3 520 233C521.2 236.8 522.3 241.2 523.5 245C524.7 248.8 525.8 252.7 527 256C528.2 259.3 529.3 262.4 530.5 265C531.7 267.6 532.8 270 534 271.5C535 272.8 536 272.8 537 273.5C538.3 271.7 539.7 270.8 541 268C542 265.9 543 262.2 544 259C545 255.8 546 252.3 547 249C548 245.7 549 242.2 550 239C551 235.8 552 232.7 553 230C553.9 227.5 554.9 225.9 555.8 223.5C557.2 219.9 558.6 215.9 560 212C561.7 207.4 563.3 202.2 565 198C566.7 193.8 568.3 190.4 570 187C571.7 183.6 573.3 180.7 575 177.8C576.7 174.9 578.3 172.1 580 169.5C581.7 166.9 583.3 164.3 585 162.5C586.7 160.7 588.3 159.4 590 158.5C591.7 157.6 593.3 156.9 595 157C596.7 157.1 598.3 157.5 600 159C601.3 160.2 602.7 162.3 604 165C605.2 167.3 606.3 170.7 607.5 174C608.7 177.3 609.8 181.4 611 185C612.2 188.6 613.3 192.1 614.5 195.5C615.7 198.9 616.8 202.7 618 205.5C619.2 208.3 620.3 210.7 621.5 212.5C622.8 214.4 624 215.2 625.3 216.5C626.5 215 627.8 214.6 629 212C630 209.9 631 206.2 632 202.5C633 198.8 634 194.1 635 189.5C636 184.9 637 179.8 638 175C639 170.2 640 165 641 160.5C642 156 643 151.4 644 148C644.6 145.9 645.2 146 645.8 144C646.5 141.5 647.3 137.4 648 134.6C648.9 131.1 649.9 127.6 650.8 125C652.1 121.2 653.5 117.8 654.8 115.4C656.4 112.5 658 110.7 659.6 109C661.7 106.8 663.9 105.3 666 103.8C668.7 101.9 671.3 100.4 674 99C676.7 97.6 679.3 96.6 682 95.4C683.3 94.8 684.7 94 686 93.4C688 92.5 690 91.7 692 91C694 90.3 696 89.7 698 89.2C700 88.7 702 88.2 704 88C706 87.8 708 88 710 88.2C712 88.4 714 88.6 716 89C718 89.4 720 90 722 90.4C724 90.8 726 91.2 728 91.4C729.3 91.5 730.7 91.5 732 91.4C733.3 91.3 734.7 91.1 736 90.6C737.3 90.1 738.7 89.3 740 88.5C741.3 87.7 742.7 86.9 744 86C745.3 85 746.7 83.7 748 82.8C749.3 81.9 750.7 81 752 80.4C754 79.5 756 78.6 758 78.2C760 77.8 762 78 764 78C766 78 768 78.5 770 78.2C771.7 78 773.3 77.3 775 76.6C776.7 75.9 778.3 75 780 74.2C781.7 73.4 783.3 72.7 785 72C786.7 71.4 788.3 70.7 790 70.2C792.3 69.5 794.7 68.8 797 68.3C799.3 67.8 801.7 67.5 804 67.2C806.7 66.9 809.3 66.6 812 66.4C814.7 66.2 817.3 66 820 65.8C822.7 65.6 825.3 65.4 828 65.1C830.7 64.8 833.3 64.4 836 64.1C838.3 63.8 840.7 63.4 843 63.2C845.3 63 847.7 62.7 850 62.8C852.3 62.9 854.7 63.3 857 63.5C859.3 63.7 861.7 64 864 64.1C865.3 64.1 866.7 63.9 868 63.7C869.3 63.5 870.7 63.3 872 62.9C874 62.3 876 61.5 878 60.6C880 59.7 882 58.4 884 57.4C886 56.4 888 55.5 890 54.6C892 53.7 894 52.9 896 52.3C898.3 51.6 900.7 51 903 50.5C905.3 50 907.7 49.8 910 49.4C912.3 49 914.7 48.5 917 48.1C919.3 47.7 921.7 47.2 924 46.9C926.3 46.6 928.7 46.3 931 46.1C933.2 45.9 935.4 45.7 937.6 45.7C939.4 45.7 941.2 45.8 943 46C944.4 46.2 945.8 46.3 947.2 46.7C948.8 47.1 950.4 47.7 952 48.3C953.6 49 955.2 49.6 956.8 50.4C958.4 51.2 960 52.1 961.6 52.9C963.2 53.6 964.8 54.4 966.4 55C967.6 55.5 968.8 55.8 970 56.1C971.2 56.3 972.4 56.4 973.6 56.4C974.7 56.3 975.9 56.1 977 55.7C978.3 55.2 979.5 54.4 980.8 53.5C982 52.7 983.2 51.6 984.4 50.6C985.6 49.6 986.8 48.2 988 47.2C989.7 45.8 991.3 44.5 993 43.2C994.5 42 996.1 40.8 997.6 39.6C997.9 39.4 998.1 39.2 998.4 39"/>
<path stroke="#2ca02c" d="M79.6 48.5C81.1 47 82.5 45.3 84 44C85.7 42.5 87.3 41.1 89 40C90.7 38.9 92.3 37.9 94 37.2C95.3 36.7 96.7 36.3 98 36.4C99.7 36.5 101.3 37.3 103 38C105 38.8 107 40 109 41C110.7 41.8 112.3 42.7 114 43.5C115.7 44.3 117.3 45.1 119 45.6C121 46.1 123 46.2 125 46.5C127 46.8 129 46.8 131 47.2C133.3 47.6 135.7 48.4 138 49C140.3 49.6 142.7 50.5 145 50.6C146.7 50.7 148.3 50.2 150 49.6C151.7 49 153.3 48.1 155 47C156.3 46.1 157.7 44.7 159 43.5C160.3 42.3 161.7 40.9 163 40C164.3 39.1 165.7 38.6 167 38.2C168.3 37.8 169.7 37.6 171 37.6C173 37.6 175 38 177 38.2C179 38.4 181 38.6 183 39C185 39.4 187 39.9 189 40.3C191 40.7 193 41.2 195 41.6C197.7 42.1 200.3 42.4 203 42.8C205.7 43.2 208.3 43.4 211 44C212.3 44.3 213.7 44.8 215 45.5C216.3 46.2 217.7 46.9 219 48C220.7 49.4 222.3 51.2 224 53C225.7 54.8 227.3 57.2 229 59C230.7 60.8 232.3 62.3 234 63.5C235.7 64.7 237.3 65.9 239 66.4C240.7 67 242.3 66.8 244 66.8C245.7 66.8 247.3 66.5 249 66.6C250.3 66.7 251.7 67 253 67.4C254.3 67.8 255.7 68.2 257 69.2C258.7 70.4 260.3 72.2 262 74C263.7 75.8 265.3 78 267 80C268.3 81.6 269.7 83.4 271 85C272.3 86.6 273.7 88 275 89.5C277 91.8 279 94.2 281 96.5C283 98.8 285 101.2 287 103C288.7 104.5 290.3 105.5 292 106.3C293.3 106.9 294.7 107.4 296 107.2C297.7 107 299.3 106.4 301 105C303 103.3 305 100.6 307 98C309.3 95 311.7 91.3 314 88.2C315.2 86.7 316.3 85.1 317.5 84.1C318.7 83 319.8 82.1 321 81.9C322 81.8 323 82.7 324 83.2C324.7 83.6 325.3 84 326 84.6C327 85.5 328 86.7 329 87.8C330 88.9 331 90 332 91C332.3 91.3 332.7 91.7 333 92C334.7 93.3 336.3 95 338 95.8C339.7 96.6 341.3 97.4 343 97C345.7 96.3 348.3 93.7 351 92.5C353.7 91.3 356.3 89.8 359 90C361.7 90.2 364.3 92 367 93.5C369.7 95 372.3 97.1 375 99C377.7 100.9 380.3 103 383 105C385.7 107 388.3 108.9 391 111C392.7 112.3 394.3 113.5 396 115C397.7 116.5 399.3 118 401 120C402.3 121.6 403.7 123.5 405 126C406.3 128.5 407.7 131.2 409 135C410 137.9 411 141.8 412 146C413 150.2 414 154.8 415 160C416 165.2 417 171.3 418 177C419 182.7 420 187.8 421 194C422 200.2 423 207.7 424 214C425 220.3 426 226.5 427 232C427.8 236.5 428.7 240 429.5 244C430.5 248.8 431.5 253.7 432.5 258.5C434 259.5 435.5 260.5 437 261.5C438.5 257.7 440 253.8 441.5 250C442.2 246.9 442.8 244 443.5 240.8C444.1 238 444.7 235.4 445.3 232C446.2 226.8 447.1 220.2 448 215C449 209.2 450 204 451 199C452 194 453 189.6 454 185C454.8 181.2 455.7 177 456.5 173.8C457.3 170.6 458.2 168.1 459 166C460 163.5 461 161.4 462 160C463 158.6 464 158 465 157.5C466.2 156.9 467.3 156.4 468.5 156.5C470.3 156.7 472.2 157.5 474 158.5C476 159.6 478 161.1 480 162.7C482 164.3 484 165.9 486 168C488 170.1 490 172.2 492 175C494 177.8 496 181.2 498 185C499.7 188.2 501.3 191.9 503 196C504.3 199.3 505.7 203.3 507 207C508.3 210.7 509.7 214.5 511 218C511.8 220.2 512.7 221.9 513.5 224.3C514.5 227.2 515.5 230.4 516.5 234C517.5 237.6 518.5 241.8 519.5 246C520.5 250.2 521.5 254.8 522.5 259C523.5 263.2 524.5 267.2 525.5 271C526.5 274.8 527.5 278.7 528.5 282C529.5 285.3 530.5 288.5 531.5 291C532.3 293.1 533.2 294.6 534 296C534.7 297.2 535.5 298 536.2 299C537.1 298 538.1 297.8 539 296C540 294.1 541 291.3 542 288C543 284.7 544 280 545 276C546 272 547 268 548 264C549 260 550 256 551 252C552 248 553 243.8 554 240C555 236.2 556 232 557 229C557.8 226.5 558.7 225.3 559.5 223.3C561 219.8 562.5 216.3 564 212.5C565.3 209.2 566.7 205.2 568 202C569.3 198.8 570.7 195.8 572 193C573.3 190.2 574.7 187.6 576 185C577.3 182.4 578.7 179.6 580 177.3C581.7 174.4 583.3 171.3 585 169.3C586.7 167.3 588.3 166.2 590 165.2C591.5 164.3 593 163.6 594.5 163.8C596 164 597.5 164.9 599 166.5C600 167.6 601 169.6 602 172C603 174.4 604 177.7 605 181C605.8 183.8 606.7 186.8 607.5 190.3C608.7 195.2 609.8 200.5 611 206C612 210.7 613 216 614 221C615 226 616 231 617 236C618 241 619 246.4 620 251C620.3 252.5 620.7 253.2 621 254.3C622.4 256.5 623.9 258.8 625.3 261C626.9 258 628.4 255 630 252C631 246.7 632 241.5 633 236C634 230.5 635 224.7 636 219C637 213.3 638 208 639 202C639.8 197 640.7 191.3 641.5 186C642.3 180.7 643.2 175.1 644 170.2C644.8 165.3 645.7 160.8 646.5 156.8C647.5 151.9 648.5 147.7 649.5 143.5C650.3 140 651.2 136.2 652 133.5C653 130.3 654 128.1 655 126C656.3 123.2 657.7 121 659 119C660.3 117 661.7 115.4 663 114C664.7 112.2 666.3 110.9 668 109.5C669.3 108.4 670.7 107.4 672 106.5C674 105.2 676 104.1 678 103C680 101.9 682 100.9 684 100C686 99.1 688 98.2 690 97.4C692 96.6 694 95.8 696 95.2C698 94.6 700 94 702 93.6C704 93.2 706 92.9 708 93C710 93.1 712 93.6 714 94C716 94.4 718 95 720 95.6C721.7 96.1 723.3 96.9 725 97.5C726.7 98.1 728.3 98.9 730 99C731.3 99.1 732.7 98.7 734 98.2C735.3 97.7 736.7 97 738 96C739.3 95 740.7 93.3 742 92C743.3 90.7 744.7 89.2 746 88C747.3 86.8 748.7 85.8 750 85C751.3 84.2 752.7 83.6 754 83.2C756 82.7 758 82.2 760 82.3C762 82.3 764 83.3 766 83.5C768 83.8 770 84.2 772 83.8C773.7 83.4 775.3 82.1 777 81.2C778.7 80.3 780.3 79.2 782 78.3C783.7 77.4 785.3 76.5 787 75.7C788.7 74.9 790.3 74.2 792 73.6C794.3 72.9 796.7 72.1 799 71.7C801.3 71.3 803.7 71.3 806 71.3C808.7 71.3 811.3 71.7 814 71.8C816.7 71.9 819.3 72.1 822 71.9C824.7 71.8 827.3 71.4 830 70.9C832 70.5 834 69.9 836 69.2C838 68.5 840 67.3 842 66.5C844 65.7 846 64.9 848 64.5C850 64.1 852 64 854 64C856 64 858 64.4 860 64.6C862 64.8 864 65.3 866 65.5C867.3 65.6 868.7 65.5 870 65.3C871.3 65.1 872.7 64.8 874 64.3C876 63.6 878 62.7 880 61.8C882 60.9 884 59.7 886 58.7C888 57.7 890 56.6 892 55.7C894 54.8 896 54.1 898 53.5C900.3 52.8 902.7 52.4 905 51.9C907.3 51.4 909.7 51.1 912 50.8C914.3 50.4 916.7 50 919 49.6C921.3 49.2 923.7 48.6 926 48.3C928 48 930 47.9 932 47.8C933.9 47.7 935.7 47.8 937.6 47.8C939.4 47.8 941.2 47.9 943 48C944.4 48.1 945.8 48.3 947.2 48.6C948.8 49 950.4 49.4 952 50C953.6 50.6 955.2 51.2 956.8 52C958.4 52.8 960 53.8 961.6 54.6C963.2 55.4 964.8 56.2 966.4 56.8C967.6 57.3 968.8 57.7 970 58C971.6 58.3 973.2 58.6 974.8 58.6C975.9 58.6 976.9 58.3 978 58C978.9 57.7 979.9 57.4 980.8 56.8C982 56 983.2 55.1 984.4 54C985.6 52.9 986.8 51.4 988 50.2C989.7 48.6 991.3 47.1 993 45.6C994.5 44.3 996.1 43 997.6 41.8C997.9 41.6 998.1 41.4 998.4 41.2"/>
<path stroke="#000" stroke-dasharray="11.56 5" stroke-dashoffset="2.9" d="M79.5 41.5C79.5 41.5 79.6 41.5 79.6 41.5C81.1 41.7 82.5 42 84 42.2C85.3 42.4 86.7 42.8 88 42.8C90 42.8 92 42.6 94 42.2C95.7 41.9 97.3 40.7 99 40.5C100.7 40.3 102.3 40.7 104 41C106 41.4 108 42.6 110 42.5C111.7 42.4 113.3 41.1 115 40.5C116.3 40 117.7 39.4 119 39C121 38.3 123 37.4 125 37.2C126.3 37 127.7 37.2 129 37.8C130.7 38.5 132.3 39.9 134 41C135.3 41.8 136.7 42.7 138 43.5C139 44.1 140 45 141 45C142 45 143 44.1 144 43.5C145.3 42.6 146.7 41.5 148 40.5C149.3 39.5 150.7 38.3 152 37.5C152.8 37 153.7 36.5 154.5 36.8C155.7 37.3 156.8 38.9 158 40C159.3 41.3 160.7 42.5 162 44C163.3 45.5 164.7 47.8 166 49C167.3 50.2 168.7 51 170 51.2C171.3 51.4 172.7 50.6 174 50C175.3 49.4 176.7 48.3 178 47.5C178.7 47.1 179.3 46.4 180 46.2C181.7 45.6 183.3 44.8 185 45C186.3 45.2 187.7 46.8 189 47.3C191.3 48.1 193.7 48.7 196 49C198 49.3 200 49.2 202 49C203.3 48.9 204.7 48.1 206 48C208 47.9 210 47.8 212 48.5C213.3 49 214.7 50.4 216 51.5C217 52.4 218 53.3 219 54.5C220.3 56.1 221.7 58.4 223 60C224.3 61.6 225.7 63.4 227 64.2C227.8 64.7 228.7 64.3 229.5 64C230.3 63.7 231.2 63.3 232 62.5C233.3 61.3 234.7 59.4 236 58C237.3 56.6 238.7 55.6 240 54C240.7 53.2 241.3 52 242 51C243 49.6 244 47.9 245 46.8C246 45.7 247 45.2 248 44.5C248.7 44 249.3 43.5 250 43.2C251 42.8 252 42.5 253 42.4C253.7 42.3 254.3 42.4 255 42.5C255.7 42.6 256.3 42.7 257 43.2C258 44 259 45.6 260 46.5C261.7 47.9 263.3 49.3 265 50C266.7 50.7 268.3 50 270 50.5C270.7 50.7 271.3 51.3 272 52C272.7 52.7 273.3 54.3 274 54.6C274.7 54.9 275.3 54 276 53.8C276.8 53.5 277.7 53 278.5 53.2C279.3 53.4 280.2 54.2 281 55C281.8 55.8 282.7 57.1 283.5 57.8C285 59 286.5 59.7 288 60.5C289.7 61.4 291.3 62.3 293 62.8C294.7 63.3 296.3 63.2 298 63.5C300 63.8 302 63.8 304 64.5C306 65.2 308 66.8 310 68C311.3 68.8 312.7 69.8 314 70.5C315.7 71.4 317.3 72.7 319 73C320.7 73.3 322.3 72.5 324 72.5C325.7 72.5 327.3 72.3 329 72.8C330.3 73.2 331.7 74.2 333 75C333.7 75.4 334.3 75.7 335 76.5C336.3 78.2 337.7 80.6 339 82.5C340.7 84.9 342.3 87.2 344 89.5C345.7 91.8 347.3 94.3 349 96.5C350.7 98.7 352.3 101 354 102.5C355.5 103.9 357 104.8 358.5 105.2C359.8 105.6 361.2 105.4 362.5 104.8C364.3 104 366.2 102.6 368 101C370.3 99 372.7 96.3 375 94C376.3 92.7 377.7 90.9 379 90C380 89.3 381 88.9 382 89.3C383.7 90 385.3 91.4 387 93.5C388.3 95.2 389.7 98.1 391 100.5C392.3 102.9 393.7 104.8 395 108C396.3 111.2 397.7 115.8 399 120C400.3 124.2 401.7 129.8 403 133C404.3 136.2 405.7 138.5 407 139.5C408.7 140.7 410.3 139.3 412 139.7C413.7 140.1 415.3 140.6 417 142C418.3 143.1 419.7 144.3 421 147C422 149 423 152.5 424 156C424.8 158.9 425.7 162.7 426.5 166C427.1 168.4 427.7 170.8 428.3 173C429 175.7 429.8 177.8 430.5 180.5C431.5 184.2 432.5 188 433.5 192C434.2 194.6 434.8 199 435.5 200.3C436.7 202.5 437.8 202.5 439 202.5C440.3 202.4 441.7 201.9 443 200C443.7 199.1 444.3 196.4 445 194C446 190.4 447 185.3 448 182C449.1 178.4 450.2 176.3 451.3 173.5C452.5 170.3 453.8 167.1 455 164C456.3 160.6 457.7 156.7 459 154C460.3 151.3 461.7 149.4 463 148C464.2 146.8 465.3 145.7 466.5 146C468 146.4 469.5 148.4 471 150C473 152.1 475 154.8 477 157C478 158.1 479 158.6 480 160C481.7 162.3 483.3 165.3 485 168C486.7 170.7 488.3 173.3 490 176C491.7 178.7 493.3 181.5 495 184C496.7 186.5 498.3 188.6 500 191C501.3 192.9 502.7 194.5 504 197C505 198.9 506 201.5 507 204C508 206.5 509 209.1 510 212C510.8 214.4 511.7 217.1 512.5 220C513 221.8 513.5 224.3 514 226C515 229.3 516 232 517 235C518 238 519 241 520 244C521 247 522 250.2 523 253C524 255.8 525 258.9 526 261C527.3 263.9 528.7 266.1 530 268C531.3 269.9 532.7 271.5 534 272.5C535.7 273.7 537.3 274.7 539 274.5C540.2 274.4 541.3 273.2 542.5 271.5C543.7 269.8 544.8 267.1 546 264C547 261.3 548 257.3 549 254C550 250.7 551 247.3 552 244C553 240.7 554 237.1 555 234C556 230.9 557 228.2 558 225.5C559.3 221.9 560.7 218.8 562 215C563.3 211.2 564.7 206.8 566 203C567.3 199.2 568.7 195.5 570 192C571.3 188.5 572.7 185.6 574 182C575.2 178.8 576.3 174.9 577.5 171.5C578.7 168.1 579.8 164.1 581 161.5C582.3 158.6 583.7 156.6 585 155C586.7 153 588.3 151.5 590 150.5C591.7 149.5 593.3 148.9 595 149C595.8 149.1 596.7 149.9 597.5 151C598.2 151.9 598.8 154.8 599.5 155C600.2 155.2 600.8 153.3 601.5 152C602 151 602.5 149 603 148C603.8 146.3 604.7 145 605.5 144C606.3 143 607.2 141.2 608 141.8C608.7 142.3 609.3 145.5 610 147.5C611 150.5 612 153.8 613 157C614 160.2 615 163.7 616 167C617 170.3 618 173.8 619 177C620 180.2 621 183.4 622 186C623 188.6 624 190.9 625 192.5C625.7 193.5 626.3 194.3 627 193.8C628 193.1 629 191.3 630 189C631 186.7 632 183.5 633 180C634 176.5 635 172.2 636 168C637 163.8 638 159.4 639 155C639.8 151.4 640.7 147.7 641.5 144C642.3 140.3 643.2 136.6 644 133C644.8 129.5 645.6 125.5 646.4 122.6C647.2 119.7 648 117.7 648.8 115.4C649.5 113.5 650.1 110.8 650.8 109.8C652.1 107.8 653.5 107.4 654.8 106.6C656.4 105.6 658 104.4 659.6 104.2C660.4 104.1 661.2 104.8 662 105.5C662.5 106 663.1 106.8 663.6 107.8C664.4 109.3 665.2 111.3 666 113C666.8 114.7 667.6 116.8 668.4 118.2C669 119.3 669.7 120.3 670.3 120.6C671.1 121 672 120.7 672.8 120.2C674.2 119.3 675.6 117.7 677 116.5C678.3 115.3 679.7 114.8 681 113C681.7 112 682.5 109.3 683.2 108.2C684.5 106.2 685.7 105.1 687 103.7C688.3 102.2 689.7 101 691 99.4C692 98.2 693 96.9 694 95.5C694.7 94.6 695.3 93.4 696 92.6C696.7 91.8 697.3 90.9 698 90.4C698.8 89.7 699.7 89.4 700.5 89C701.3 88.6 702.2 88.5 703 88C703.7 87.6 704.3 87 705 86.5C705.7 86 706.3 85.4 707 85.3C708 85.2 709 85.5 710 85.8C711.2 86.1 712.3 86.8 713.5 87.2C714.7 87.7 715.8 88.1 717 88.5C718.7 89 720.3 89.7 722 90C723.7 90.3 725.3 90.3 727 90.2C729 90.1 731 89.8 733 89.5C735 89.2 737 89.1 739 88.5C740.3 88.1 741.7 87.3 743 86.5C744.5 85.6 746 85.1 747.5 83.5C748.3 82.6 749.2 80.5 750 79C751.7 76 753.3 72.8 755 70C756.3 67.8 757.7 65.8 759 64C760.3 62.2 761.7 60.6 763 59.5C764.3 58.4 765.7 57.7 767 57.2C768.5 56.6 770 56 771.5 56C773 56 774.5 56.5 776 57.5C777.3 58.4 778.7 60 780 61.5C781.3 63 782.7 64.6 784 66.5C785.2 68.1 786.3 71.1 787.5 72C788.7 72.9 789.8 72.7 791 71.8C792.3 70.8 793.7 67.4 795 66.5C796 65.8 797 66.7 798 67C799 67.3 800 68.8 801 68.5C802.2 68.1 803.3 66.8 804.5 65C805.3 63.8 806.2 60.7 807 59.5C808.3 57.6 809.7 56.7 811 55.5C812.3 54.3 813.7 53.3 815 52.5C816.2 51.8 817.3 51.2 818.5 51.2C819.7 51.2 820.8 51.5 822 52.5C823 53.3 824 55.2 825 56.5C826 57.8 827 59 828 60.5C828.7 61.5 829.3 63.2 830 64C831.3 65.7 832.7 66.8 834 68C835.3 69.2 836.7 70.2 838 71C838.8 71.5 839.7 72 840.5 71.8C842 71.5 843.5 69.9 845 69.5C846.7 69 848.3 69.4 850 69C851.3 68.7 852.7 67.2 854 67.2C856 67.2 858 68.3 860 69C861.7 69.6 863.3 69.9 865 71C866 71.7 867 73.2 868 74.5C869 75.8 870 77.5 871 78.5C872 79.5 873 79.9 874 80.3C875.2 80.7 876.3 81.1 877.5 81C878.7 80.9 879.8 80.6 881 79.5C882 78.6 883 77.1 884 75C885 72.9 886 69.1 887 67C888.3 64.1 889.7 62.2 891 60C892 58.4 893 56.6 894 55.5C895.3 54 896.7 52.9 898 52.2C899 51.7 900 51.4 901 51.8C902.2 52.2 903.3 52.9 904.5 54.5C906 56.6 907.5 60.1 909 63C910.3 65.6 911.7 68.2 913 71C914.2 73.4 915.3 75.8 916.5 78.5C916.7 79 917 80.4 917.2 80.8C918.6 83.3 920 85.9 921.4 87.4C922.8 88.9 924.2 90.1 925.6 89.8C927.2 89.5 928.8 88 930.4 85.6C932.4 82.6 934.4 77.3 936.4 73.6C938.4 69.9 940.4 65.8 942.4 63.4C944.4 61 946.4 59.9 948.4 59.2C950.8 58.3 953.2 58.4 955.6 58.6C958.4 58.8 961.2 60.2 964 60.4C967.2 60.6 970.4 59.6 973.6 59.8C976.4 60 979.2 61.7 982 61.8C984 61.9 986 61.2 988 60.4C990 59.6 992 57.8 994 56.8C995.5 56 996.9 55.6 998.4 55"/>
</g>
<g stroke="#000" stroke-width="3" stroke-linecap="square">
<line x1="437.7" y1="68.6" x2="437.7" y2="102.05"/>
<line x1="537.3" y1="68.6" x2="537.3" y2="102.05"/>
<line x1="630.2" y1="68.6" x2="630.2" y2="102.05"/>
</g>
<g font-size="25px">
<text x="413.3" y="42">OH</text>
<text x="511.8" y="42">Al I</text>
<text x="610" y="42">OH</text>
</g>
<path d="M138.3 336.7v10.4M291.5 336.7v10.4M444.6 336.7v10.4M597.8 336.7v10.4M750.9 336.7v10.4M904.1 336.7v10.4M79.5 35.1h-10.6M79.5 102.1h-10.6M79.5 169h-10.6M79.5 236h-10.6M79.5 302.9h-10.6" stroke="#000" stroke-width="1.67" fill="none"/>
<rect x="79.5" y="1.9" width="918.8" height="334.8" fill="none" stroke="#000" stroke-width="1.67"/>
<g text-anchor="middle">
<text x="138.3" y="370.5">1675.0</text>
<text x="291.5" y="370.5">1675.2</text>
<text x="444.6" y="370.5">1675.4</text>
<text x="597.8" y="370.5">1675.6</text>
<text x="750.9" y="370.5">1675.8</text>
<text x="904.1" y="370.5">1676.0</text>
<text x="539" y="398">Wavelength[nm]</text>
</g>
<g text-anchor="end">
<text x="61.9" y="43.1">1.0</text>
<text x="61.9" y="110.1">0.9</text>
<text x="61.9" y="177">0.8</text>
<text x="61.9" y="244">0.7</text>
<text x="61.9" y="310.9">0.6</text>
</g>
<text transform="translate(16.6,168.8) rotate(-90)" text-anchor="middle">Normalized Flux</text>
<rect x="90" y="228.9" width="238.8" height="97.5" rx="3.5" fill="#fff" fill-opacity="0.8" stroke="#ccc" stroke-opacity="0.8" stroke-width="2.08"/>
<line x1="97.9" y1="245.4" x2="139.4" y2="245.4" stroke="#1f77b4" stroke-width="3.0" stroke-linecap="square"/>
<text x="155.9" y="253.3">Met = –0.2 dex</text>
<line x1="97.9" y1="275.9" x2="139.4" y2="275.9" stroke="#ff7f0e" stroke-width="3.0" stroke-linecap="square"/>
<text x="155.9" y="283.8">Met = +0.1 dex</text>
<line x1="97.9" y1="306.4" x2="139.4" y2="306.4" stroke="#2ca02c" stroke-width="3.0" stroke-linecap="square"/>
<text x="155.9" y="314.3">Met = +0.5 dex</text>
</g>
</svg></body></html>
